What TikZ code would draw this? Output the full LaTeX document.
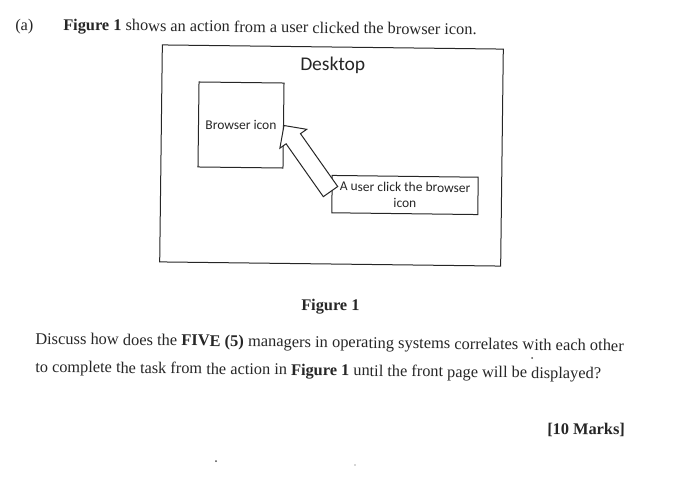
\documentclass[tikz,border=0pt]{standalone}
\usepackage{fontspec}
\setmainfont{Liberation Serif}
\newfontfamily\calibri{Carlito}
\usetikzlibrary{calc}
\tikzset{
  exam/.style={anchor=base west,inner sep=0pt,rotate=-0.7,font=\fontsize{12.25pt}{15pt}\selectfont,text=black!85},
  boxed/.style={draw=black!85,line width=0.75pt,rotate=-0.7,inner sep=0pt,font=\calibri,text=black!85},
  blockarrow/.style={draw=black!85,line width=0.75pt,fill=white,line join=miter},
  speck/.style={fill=black!70,draw=none}
}
\begin{document}
\begin{tikzpicture}[x=0.75pt,y=0.75pt,yscale=-1]
\useasboundingbox (0,0) rectangle (693,478);

%Question heading
\node[exam] (part) at (15,30) {(a)};
\node[exam] (intro) at (63,30) {\textbf{Figure 1} shows an action from a user clicked the browser icon.};

%Figure boxes
\node[boxed,minimum width=255.75pt,minimum height=162.75pt] (desktop) at (331.5,155.5) {};
\node[exam,font=\calibri\fontsize{14.6pt}{16pt}\selectfont] (title) at (300,70) {Desktop};
\node[boxed,minimum width=63.75pt,minimum height=63.75pt,font=\calibri\fontsize{10.1pt}{11pt}\selectfont] (browser) at (241,125) {Browser icon};
\node[boxed,minimum width=109.5pt,minimum height=28pt,align=center,font=\calibri\fontsize{10.1pt}{12pt}\selectfont] (note) at (405,195) {A user click the browser\\icon};

%Block arrow
\coordinate (tail) at ($(note.west)+(-1,-2.5)$);
\coordinate (headbase) at ($(browser.east)!0.2!(tail)$);
\draw[blockarrow] (browser.east)
  -- ($(headbase)!12.3pt!90:(tail)$)
  -- ($(headbase)!6.6pt!90:(tail)$)
  -- ($(tail)!6.6pt!-90:(headbase)$)
  -- ($(tail)!6.6pt!90:(headbase)$)
  -- ($(headbase)!6.6pt!-90:(tail)$)
  -- ($(headbase)!12.3pt!-90:(tail)$)
  -- cycle;

%Question text
\node[exam,font=\bfseries\fontsize{12.25pt}{15pt}\selectfont] (caption) at (301,310) {Figure 1};
\node[exam,font=\fontsize{12.33pt}{15pt}\selectfont] (lineone) at (35,344) {Discuss how does the \textbf{FIVE (5)} managers in operating systems correlates with each other};
\node[exam] (linetwo) at (35,372) {to complete the task from the action in \textbf{Figure 1} until the front page will be displayed?};
\node[exam,font=\bfseries\fontsize{12.25pt}{15pt}\selectfont] (marks) at (547,434) {[10 Marks]};

%Scan specks
\fill[speck] (532,358) circle (1);
\fill[speck] (216,461) circle (1);
\fill[speck] (355,465) circle (0.6);

\end{tikzpicture}
\end{document}
